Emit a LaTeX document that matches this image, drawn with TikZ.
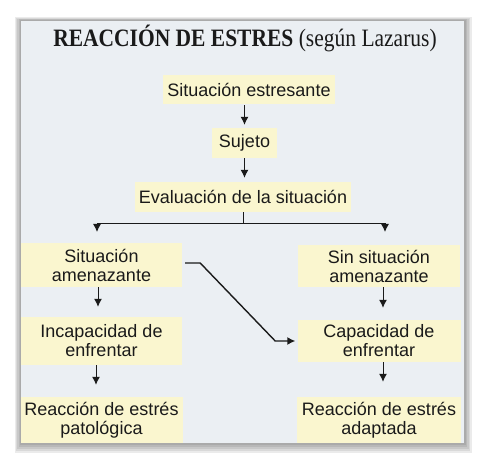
\documentclass[tikz,border=0pt]{standalone}
\usepackage{fontspec}
\setmainfont{Liberation Sans}
\newfontfamily\titlefont{Liberation Serif}
\usetikzlibrary{arrows.meta}
\definecolor{panelgray}{HTML}{EBEFF3}
\definecolor{boxyellow}{HTML}{FAF6CF}
\definecolor{inkdark}{HTML}{1A1A1A}

\begin{document}
\begin{tikzpicture}[x=1pt,y=-1pt,>={Latex[length=8pt,width=8pt]},thin,
  every node/.style={font=\fontsize{18}{19}\selectfont,text=inkdark,align=center,inner sep=0pt},
  yellowbox/.style={fill=boxyellow},
  flow/.style={->,draw=inkdark,line width=1pt}]
  \useasboundingbox (0,0) rectangle (485,465);
  % soft shadow round the panel
  \foreach \g in {10,8,6,4,2}
    \fill[black,opacity=0.08] (21-\g*0.6,21-\g*0.4) rectangle (464+\g*0.8,443+\g);
  \fill[panelgray] (21,21) rectangle (464,443);
  \node (title) at (245,38) {\titlefont\fontsize{25}{28}\selectfont
    \scalebox{0.86}[1]{\textbf{REACCIÓN DE ESTRES} (según Lazarus)}};
  % centre column
  \node (estres) [yellowbox,minimum width=172,minimum height=29] at (249,89.5) {Situación estresante};
  \node (sujeto) [yellowbox,minimum width=65,minimum height=30] at (244.5,143) {Sujeto};
  \node (evalua) [yellowbox,minimum width=216,minimum height=30] at (243,197) {Evaluación de la situación};
  % left column
  \node (amenaza) [yellowbox,minimum width=161,minimum height=44] at (101.5,265) {Situación\\amenazante};
  \node (incapaz) [yellowbox,minimum width=161,minimum height=48] at (101.5,341) {Incapacidad de\\enfrentar};
  \node (patolog) [yellowbox,minimum width=162,minimum height=46] at (101.5,420) {Reacción de estrés\\patológica};
  % right column
  \node (sinamen) [yellowbox,minimum width=162,minimum height=42] at (379,266) {Sin situación\\amenazante};
  \node (capaz) [yellowbox,minimum width=163,minimum height=42] at (379,341) {Capacidad de\\enfrentar};
  \node (adapta) [yellowbox,minimum width=164,minimum height=46] at (379,420) {Reacción de estrés\\adaptada};
  \coordinate (split) at (243,224);
  \coordinate (lend) at (97,232);
  \coordinate (rend) at (385,232);
  \draw[flow,shorten <=1pt,shorten >=3pt] (estres.south -| sujeto) -- (sujeto);
  \draw[flow,shorten >=4pt] (sujeto.south) -- (sujeto.south |- evalua.north);
  \draw[draw=inkdark,line width=1pt] (evalua) -- (split);
  \draw[flow] (split) -| (lend);
  \draw[flow] (split) -| (rend);
  \draw[flow,shorten >=10pt] ([xshift=-3.5pt]amenaza.south) -- ([xshift=-3.5pt]incapaz.north);
  \draw[flow,shorten >=12pt] ([xshift=-5.5pt]incapaz.south) -- ([xshift=-5.5pt]patolog.north);
  \draw[flow,shorten >=12pt] ([xshift=4pt]sinamen.south) -- ([xshift=4pt]capaz.north);
  \draw[flow,shorten >=15pt] ([xshift=4pt]capaz.south) -- ([xshift=4pt]adapta.north);
  \draw[flow,line width=1.4pt,shorten <=3pt,shorten >=2pt] (amenaza.east) ++(0,-2) -- ++(18,0) -- ++(75,78) -- (capaz.west);
\end{tikzpicture}
\end{document}
